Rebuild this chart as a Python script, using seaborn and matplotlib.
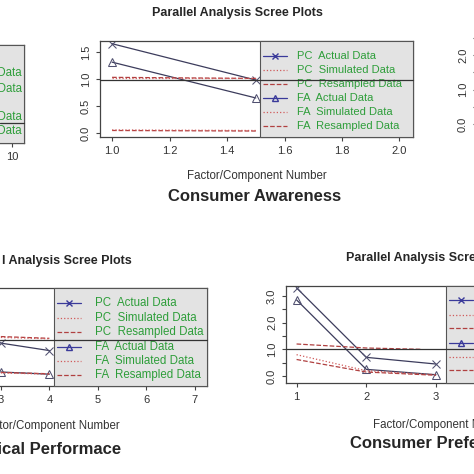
import matplotlib
matplotlib.use("Agg")
import matplotlib.pyplot as plt
import seaborn as sns
import pandas as pd
from matplotlib.patches import Rectangle
from matplotlib.lines import Line2D

sns.set_style("white")
plt.rcParams['font.family'] = ['Liberation Sans', 'DejaVu Sans']

W = 474.0
main_title = "Parallel Analysis Scree Plots"
legend_labels = ["PC  Actual Data", "PC  Simulated Data", "PC  Resampled Data",
                 "FA  Actual Data", "FA  Simulated Data", "FA  Resampled Data"]

# Consumer Awareness
ca_x = [1.0, 1.5]
ca_pc_actual = [1.65, 0.98]
ca_fa_actual = [1.31, 0.65]
ca_x_res = [1.0, 1.5]
ca_pc_res = [1.03, 1.01]
ca_pc_sim = [1.02, 1.02]
ca_fa_res = [0.05, 0.04]
ca_fa_sim = [0.06, 0.05]

# Technical Performance (partial)
tp_x = [3, 4]
tp_pc_actual = [0.93, 0.76]
tp_fa_actual = [0.27, 0.22]
tp_pc_res = [1.08, 1.04]
tp_pc_sim = [1.06, 1.03]
tp_fa_res = [0.26, 0.23]
tp_fa_sim = [0.25, 0.22]

# Consumer Preference
cp_x = [1, 2, 3]
cp_pc_actual = [3.3, 0.7, 0.45]
cp_fa_actual = [2.85, 0.25, 0.05]
cp_x_res = [1, 2, 2.8]
cp_pc_res = [1.2, 1.05, 1.0]
cp_pc_sim = [0.8, 0.2, 0.05]
cp_fa_res = [0.62, 0.15, 0.03]

fig = plt.figure(figsize=(4.74, 4.74), dpi=100)
GREEN = "#2e9e3a"
LINE = "#3c3c5c"
BLUE = "#3a3a9a"
RED = "#d05a5a"
DRED = "#b04040"
GRAY = "#e3e3e3"


def ax_px(l, t, r, b):
    return fig.add_axes([l / W, 1 - b / W, (r - l) / W, (b - t) / W])


def style(ax):
    for s in ax.spines.values():
        s.set_color("#444444")
        s.set_linewidth(0.9)
    ax.tick_params(axis='both', length=3, color="#444444", labelsize=8,
                   labelcolor="#333333", direction='out', bottom=True, left=True)
    for lab in ax.get_yticklabels():
        lab.set_rotation(90)
        lab.set_va('center')


def draw(ax, x, y, style_, marker=None, color=LINE):
    d = pd.DataFrame({"x": x, "y": y})
    sns.lineplot(data=d, x="x", y="y", ax=ax, color=color, linestyle=style_,
                 marker=marker, markersize=6, markerfacecolor='none',
                 markeredgecolor=color if marker is None else "#505070",
                 linewidth=0.9, sort=False)
    ax.set_xlabel("")
    ax.set_ylabel("")


def legend_box(l, t, r, b, rows, x_line, x_text, fs=8.3):
    fig.add_artist(Rectangle((l / W, 1 - b / W), (r - l) / W, (b - t) / W,
                             transform=fig.transFigure, facecolor=GRAY,
                             edgecolor="#555555", linewidth=0.8, zorder=3))
    styles = [('-', 'x', BLUE), (':', None, RED), ('--', None, DRED),
              ('-', '^', BLUE), (':', None, RED), ('--', None, DRED)]
    for (yy, lab), (ls, mk, c) in zip(rows, styles):
        fig.add_artist(Line2D([x_line / W, (x_line + 24) / W], [1 - yy / W] * 2,
                              transform=fig.transFigure, color=c, linestyle=ls,
                              linewidth=0.9, zorder=4))
        if mk:
            fig.add_artist(Line2D([(x_line + 12) / W], [1 - yy / W], marker=mk,
                                  markersize=5, markerfacecolor='none',
                                  markeredgecolor=c, transform=fig.transFigure, zorder=4))
        fig.text(x_text / W, 1 - yy / W, lab, color=GREEN, fontsize=fs,
                 va='center', ha='left', zorder=5)


# ---------- top-left partial ----------
ax0 = ax_px(-150, 45, 24, 143)
ax0.set_xlim(0, 10.74)
ax0.set_ylim(0, 1)
ax0.set_xticks([10])
ax0.set_yticks([])
style(ax0)
fig.add_artist(Rectangle((-5 / W, 1 - 143 / W), 29 / W, 98 / W, transform=fig.transFigure,
                         facecolor=GRAY, edgecolor="#555555", lw=0.8, zorder=3))
fig.add_artist(Line2D([0, 24 / W], [1 - 123 / W] * 2, transform=fig.transFigure,
                      color="#333333", lw=0.9, zorder=6))
for yy, t in [(73, "Actual Data"), (89, "Simulated Data"), (117, "Resampled Data"), (131, "Actual Data")]:
    fig.text(22 / W, 1 - yy / W, t, color=GREEN, fontsize=8.3, ha='right', va='center', zorder=5)

# ---------- top middle: Consumer Awareness ----------
ax1 = ax_px(100, 41, 413, 137)
draw(ax1, ca_x, ca_pc_actual, '-', 'x')
draw(ax1, ca_x, ca_fa_actual, '-', '^')
draw(ax1, ca_x_res, ca_pc_res, '--', None, DRED)
draw(ax1, ca_x_res, ca_pc_sim, ':', None, RED)
draw(ax1, ca_x_res, ca_fa_res, '--', None, DRED)
draw(ax1, ca_x_res, ca_fa_sim, ':', None, RED)
ax1.set_xlim(0.958, 2.047)
ax1.set_ylim(-0.07, 1.70)
ax1.set_xticks([1.0, 1.2, 1.4, 1.6, 1.8, 2.0])
ax1.set_yticks([0.0, 0.5, 1.0, 1.5])
ax1.set_yticklabels(["0.0", "0.5", "1.0", "1.5"])
style(ax1)
legend_box(260, 41, 413, 137, list(zip([56, 70, 84, 98, 112, 126], legend_labels)), 263, 297, fs=8)
fig.add_artist(Line2D([100 / W, 413 / W], [1 - 80 / W] * 2, transform=fig.transFigure,
                      color="#333333", lw=0.9, zorder=6))
fig.text(237 / W, 1 - 13 / W, main_title, fontsize=9, fontweight='bold', ha='center', va='center')
fig.text(257 / W, 1 - 176 / W, "Factor/Component Number", fontsize=8.3, ha='center', va='center', color="#333333")
fig.text(255 / W, 1 - 197 / W, "Consumer Awareness", fontsize=12, fontweight='bold', ha='center', va='center')

# ---------- top-right partial ----------
ax2 = ax_px(477, 30, 700, 130)
ax2.set_ylim(-0.17, 2.72)
ax2.set_yticks([0, 0.5, 1.0, 1.5, 2.0, 2.5])
ax2.set_yticklabels(["0.0", "", "1.0", "", "2.0", ""])
ax2.set_xticks([])
style(ax2)

# ---------- bottom-left: Technical Performance ----------
ax3 = ax_px(-150, 288, 207, 386)
draw(ax3, tp_x, tp_pc_actual, '-', 'x')
draw(ax3, tp_x, tp_fa_actual, '-', '^')
draw(ax3, tp_x, tp_pc_res, '--', None, DRED)
draw(ax3, tp_x, tp_pc_sim, ':', None, RED)
draw(ax3, tp_x, tp_fa_res, '--', None, DRED)
draw(ax3, tp_x, tp_fa_sim, ':', None, RED)
ax3.set_xlim(7.25 - 357 / 48.5, 7.25)
ax3.set_ylim(-0.05, 2.19)
ax3.set_xticks([3, 4, 5, 6, 7])
ax3.set_yticks([])
style(ax3)
legend_box(54, 288, 207, 386, list(zip([303, 318, 332, 347, 361, 375], legend_labels)), 57, 95)
fig.add_artist(Line2D([0, 207 / W], [1 - 340 / W] * 2, transform=fig.transFigure,
                      color="#333333", lw=0.9, zorder=6))
fig.text(2 / W, 1 - 261 / W, "l Analysis Scree Plots", fontsize=9, fontweight='bold', ha='left', va='center')
fig.text(-20 / W, 1 - 426 / W, "Factor/Component Number", fontsize=8.3, ha='left', va='center', color="#333333")
fig.text(-50 / W, 1 - 450 / W, "Technical Performace", fontsize=12, fontweight='bold', ha='left', va='center')

# ---------- bottom-right: Consumer Preference ----------
ax4 = ax_px(286, 286, 560, 383)
draw(ax4, cp_x, cp_pc_actual, '-', 'x')
draw(ax4, cp_x, cp_fa_actual, '-', '^')
draw(ax4, cp_x_res, cp_pc_res, '--', None, DRED)
draw(ax4, cp_x, cp_pc_sim, ':', None, RED)
draw(ax4, cp_x, cp_fa_res, '--', None, DRED)
ax4.set_xlim(1 - 11 / 72.5, 1 + 274 / 72.5)
ax4.set_ylim(-0.26, 3.37)
ax4.set_xticks([1, 2, 3, 4])
ax4.set_yticks([0, 0.5, 1.0, 1.5, 2.0, 2.5, 3.0])
ax4.set_yticklabels(["0.0", "", "1.0", "", "2.0", "", "3.0"])
style(ax4)
legend_box(446, 286, 560, 383, list(zip([300, 315, 328, 343, 357, 370], legend_labels)), 449, 485)
fig.add_artist(Line2D([286 / W, 1], [1 - 349 / W] * 2, transform=fig.transFigure,
                      color="#333333", lw=0.9, zorder=6))
fig.text(346 / W, 1 - 258 / W, main_title, fontsize=9, fontweight='bold', ha='left', va='center')
fig.text(373 / W, 1 - 425 / W, "Factor/Component Number", fontsize=8.3, ha='left', va='center', color="#333333")
fig.text(350 / W, 1 - 444 / W, "Consumer Preference", fontsize=12, fontweight='bold', ha='left', va='center')

fig.savefig("out.png", dpi=100)
